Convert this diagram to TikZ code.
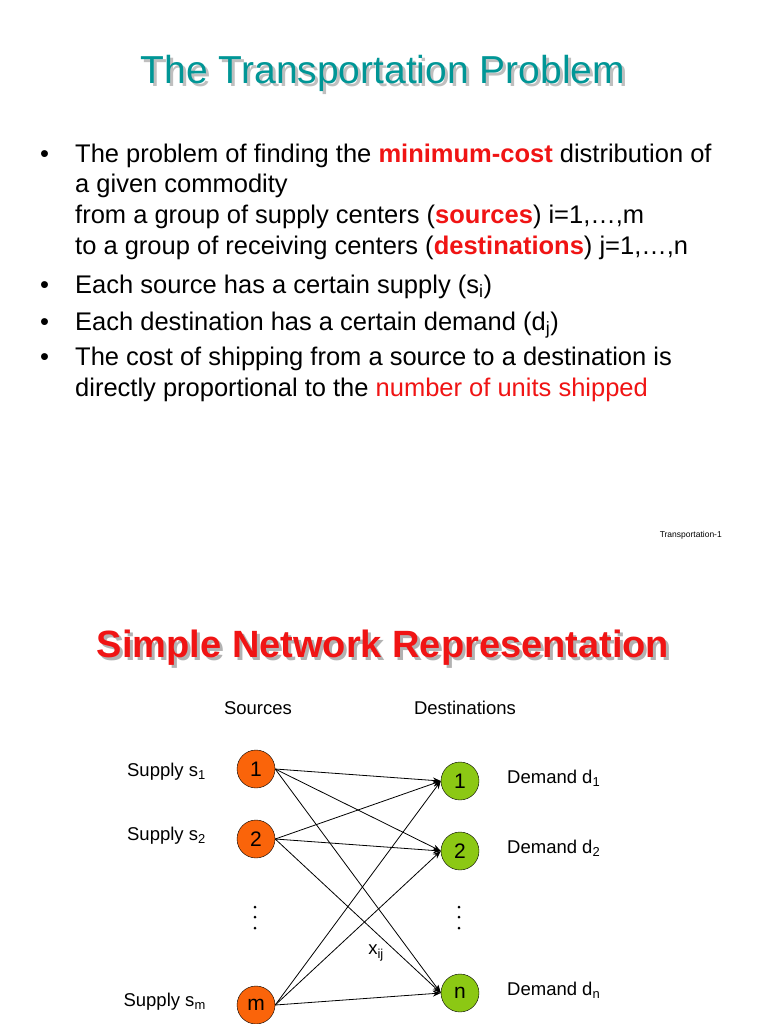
\documentclass[tikz,border=0pt]{standalone}
\usepackage{fontspec}
\setmainfont{Liberation Sans}
\usetikzlibrary{arrows.meta}
\definecolor{teal1}{RGB}{0,150,150}
\definecolor{red1}{RGB}{240,20,20}
\definecolor{src}{RGB}{250,100,10}
\definecolor{dst}{RGB}{140,200,20}
\begin{document}
\begin{tikzpicture}[x=1pt,y=-1pt,
  line/.style={anchor=base west,inner sep=0pt,font=\fontsize{25.5}{28}\selectfont},
  bul/.style={anchor=base west,inner sep=0pt,font=\fontsize{25.5}{28}\selectfont},
  lab/.style={inner sep=0pt,font=\fontsize{18.5}{21}\selectfont},
  snode/.style={circle,draw=black,fill=src,minimum size=38pt,inner sep=0pt,font=\fontsize{21}{23}\selectfont},
  dnode/.style={circle,draw=black,fill=dst,minimum size=38pt,inner sep=0pt,font=\fontsize{21}{23}\selectfont},
  edge/.style={line width=0.8pt,-{Stealth[length=8pt,width=6pt]}},
  dotc/.style={fill=black,circle,inner sep=0pt,minimum size=3pt}]
\useasboundingbox (0,0) rectangle (768,1024);
\fill[white] (0,0) rectangle (768,1024);
% title 1
\node[text=gray!50,font=\fontsize{39}{43}\selectfont] (t1s) at (386,76) {The Transportation Problem};
\node[text=teal1,font=\fontsize{39}{43}\selectfont] (t1) at (383,73) {The Transportation Problem};
% bullets
\node[bul] (b1) at (40,163) {•};
\node[line] (l1) at (75,163) {The problem of finding the \textcolor{red1}{\textbf{minimum-cost}} distribution of};
\node[line] (l2) at (75,193) {a given commodity};
\node[line] (l3) at (75,224) {from a group of supply centers (\textcolor{red1}{\textbf{sources}}) i=1,…,m};
\node[line] (l4) at (75,254) {to a group of receiving centers (\textcolor{red1}{\textbf{destinations}}) j=1,…,n};
\node[bul] (b2) at (40,293) {•};
\node[line] (l5) at (75,293) {Each source has a certain supply (s\textsubscript{i})};
\node[bul] (b3) at (40,330) {•};
\node[line] (l6) at (75,330) {Each destination has a certain demand (d\textsubscript{j})};
\node[bul] (b4) at (40,365) {•};
\node[line] (l7) at (75,365) {The cost of shipping from a source to a destination is};
\node[line] (l8) at (75,396) {directly proportional to the \textcolor{red1}{number of units shipped}};
\node[font=\fontsize{8.5}{9}\selectfont,anchor=east,inner sep=0pt] (tr) at (722,535) {Transportation-1};
% title 2
\node[text=gray!60,font=\bfseries\fontsize{38}{42}\selectfont] (t2s) at (386,651) {Simple Network Representation};
\node[text=red1,font=\bfseries\fontsize{38}{42}\selectfont] (t2) at (383,648) {Simple Network Representation};
\node[lab] (sources) at (258,708) {Sources};
\node[lab] (dests) at (465,708) {Destinations};
% nodes
\node[snode] (s1) at (256,769) {1};
\node[snode] (s2) at (256,839) {2};
\node[snode] (sm) at (256,1005) {m};
\node[dnode] (d1) at (460,781) {1};
\node[dnode] (d2) at (460,851) {2};
\node[dnode] (dn) at (460,993) {n};
\foreach \xx in {255,459} {
  \node[dotc] at (\xx,907) {};
  \node[dotc] at (\xx,917) {};
  \node[dotc] at (\xx,928) {};
}
\node[lab,anchor=east] (ls1) at (206,772) {Supply s\textsubscript{1}};
\node[lab,anchor=east] (ls2) at (206,836) {Supply s\textsubscript{2}};
\node[lab,anchor=east] (lsm) at (206,1002) {Supply s\textsubscript{m}};
\node[lab,anchor=west] (ld1) at (507,778) {Demand d\textsubscript{1}};
\node[lab,anchor=west] (ld2) at (507,848) {Demand d\textsubscript{2}};
\node[lab,anchor=west] (ldn) at (507,990) {Demand d\textsubscript{n}};
\node[lab] (x) at (376,953) {x\textsubscript{ij}};
\foreach \s in {s1,s2,sm}
  \foreach \d in {d1,d2,dn}
    \draw[edge] (\s.east) -- (\d.west);
\end{tikzpicture}
\end{document}
